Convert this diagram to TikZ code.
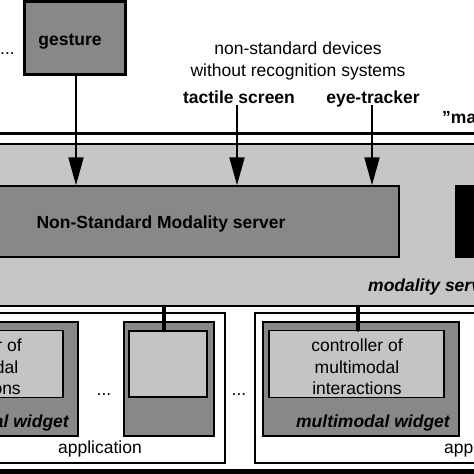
\documentclass[tikz,border=0pt]{standalone}
\usepackage{fontspec}
\setmainfont{Liberation Sans}
\usetikzlibrary{arrows.meta,calc}
\definecolor{lightg}{HTML}{C6C6C6}
\definecolor{midg}{HTML}{888888}
\definecolor{innerg}{HTML}{C4C4C4}
\tikzset{
  box/.style={draw=black, line width=1.5pt, inner sep=0pt, rectangle},
  txt/.style={inner sep=1pt, font=\fontsize{17.5}{21.5}\selectfont},
  btxt/.style={txt, font=\fontsize{17.5}{21.5}\selectfont\bfseries},
  bitxt/.style={txt, font=\fontsize{17.5}{21.5}\selectfont\bfseries\itshape},
  feed/.style={line width=2pt, -{Triangle[length=28pt,width=15pt]}},
  conn/.style={line width=4pt, line cap=round},
}
\begin{document}
\begin{tikzpicture}[x=1pt,y=-1pt]
\useasboundingbox (0,0) rectangle (474,474);
\clip (0,0) rectangle (474,474);
% gesture device
\node[box, line width=3pt, fill=midg, minimum width=101pt, minimum height=73pt] (gesture) at (75,38) {};
\node[btxt, anchor=base] (gtext) at (70,45) {gesture};
\node[txt, anchor=base west] (dots1) at (-1,54) {...};
% non-standard devices
\node[txt, align=center] (nsdev) at (298,61) {non-standard devices\\without recognition systems};
\node[btxt, anchor=base] (tactile) at (239,103) {tactile screen};
\node[btxt, anchor=base] (eye) at (373,103) {eye-tracker};
\node[btxt, anchor=base west] (ma) at (441,123) {\symbol{34}ma};
% bus line
\coordinate (busl) at (-5,133.5);
\coordinate (busr) at (480,133.5);
\draw[line width=3pt] (busl) -- (busr);
% modality server band
\node[box, fill=lightg, minimum width=514pt, minimum height=162pt] (band) at (237,225) {};
\node[box, fill=midg, minimum width=419pt, minimum height=71pt] (nsm) at (189.5,221.5) {};
\node[btxt, anchor=base] (nsmtext) at (161,228) {Non-Standard Modality server};
\node[box, fill=black, minimum width=34pt, minimum height=71pt] (blk) at (473,221.5) {};
\node[bitxt, anchor=base west] (mstext) at (367,291) {modality server};
% arrows into Non-Standard Modality server
\coordinate (gx) at (76,74.5);
\coordinate (tx) at (237,105);
\coordinate (ex) at (372,105);
\draw[feed] (gx) -- (gx |- nsm.north);
\draw[feed] (tx) -- (tx |- nsm.north);
\draw[feed] (ex) -- (ex |- nsm.north);
% applications
\node[box, fill=white, minimum width=245pt, minimum height=150pt] (appl) at (102.5,388) {};
\node[box, fill=white, minimum width=239pt, minimum height=150pt] (appr) at (374.5,388) {};
\node[txt, anchor=base] (appltext) at (100,453.5) {application};
\node[txt, anchor=base west] (apprtext) at (443,453.5) {application};
% left multimodal widget (cut by the edge)
\node[box, fill=midg, minimum width=196pt, minimum height=114pt] (lwid) at (-20,379) {};
\node[box, fill=innerg, minimum width=175pt, minimum height=67pt] (lin) at (-24.5,364) {};
\node[txt, align=center] (lctext) at (-24,367) {controller of\\multimodal\\interactions};
\node[bitxt, anchor=base east] (lwtext) at (70,427) {multimodal widget};
% middle widget
\node[box, fill=midg, minimum width=90pt, minimum height=114pt] (mwid) at (169,379) {};
\node[box, fill=innerg, minimum width=78pt, minimum height=66pt] (min) at (168,364) {};
\coordinate (mc) at ($(min.north)+(-4,0)$);
\draw[conn] (mc) -- (mc |- band.south);
\node[txt, anchor=base] (dots2) at (104,395) {...};
\node[txt, anchor=base] (dots3) at (239,395) {...};
% right multimodal widget
\node[box, fill=midg, minimum width=196pt, minimum height=114pt] (rwid) at (361,379) {};
\node[box, fill=innerg, minimum width=175pt, minimum height=67pt] (rin) at (356.5,364) {};
\node[txt, align=center] (rctext) at (357,367) {controller of\\multimodal\\interactions};
\node[bitxt, anchor=base east] (rwtext) at (451,427) {multimodal widget};
\coordinate (rc) at ($(rin.north)+(1.5,0)$);
\draw[conn] (rc) -- (rc |- band.south);
% bottom black band
\node[fill=black, minimum width=500pt, minimum height=14pt, inner sep=0pt] (bottom) at (237,476) {};
\end{tikzpicture}
\end{document}
